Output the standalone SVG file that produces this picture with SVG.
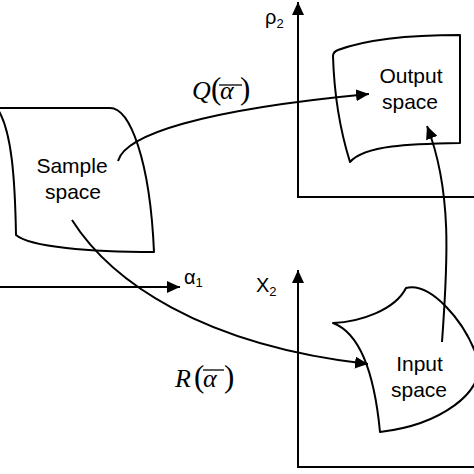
<svg xmlns="http://www.w3.org/2000/svg" width="474" height="474" viewBox="0 0 474 474">
<style>
.shape{fill:#fff;stroke:#000;stroke-width:2;stroke-linejoin:round}
.axis{fill:none;stroke:#000;stroke-width:2}
.conn{fill:none;stroke:#000;stroke-width:2}
.lbl{font-family:"Liberation Sans",Arial,sans-serif;font-size:21px;fill:#000;text-anchor:middle}
.ax{font-family:"Liberation Sans",Arial,sans-serif;font-size:20px;fill:#000}
.sub{font-size:13px}
.math{font-family:"Liberation Serif","Times New Roman",serif;font-size:26px;font-style:italic;fill:#000}
.par{font-family:"Liberation Serif","Times New Roman",serif;font-size:31px;fill:#000}
.ovl{stroke:#000;stroke-width:1.3}
</style>
<defs>
<marker id="arr" markerUnits="userSpaceOnUse" markerWidth="14" markerHeight="12" refX="13" refY="6" orient="auto">
<path d="M0,0 L13,6 L0,12 Z" fill="#000"/>
</marker>
</defs>
<rect width="474" height="474" fill="#fff"/>
<g id="axes">
<path class="axis" d="M474,197 L298,197 L298,2" marker-end="url(#arr)"/>
<path class="axis" d="M474,467 L298,467 L298,270" marker-end="url(#arr)"/>
<path class="axis" d="M0,287 L180,287" marker-end="url(#arr)"/>
<text class="ax" x="265" y="24">ρ<tspan class="sub" dy="4">2</tspan></text>
<text class="ax" x="184" y="284">α<tspan class="sub" dy="3">1</tspan></text>
<text class="ax" x="256" y="292">X<tspan class="sub" dy="4">2</tspan></text>
</g>
<g id="sample">
<path class="shape" d="M-3,108 L110,108 C130,108 150,160 154,252 C90,252 30,247 16,235 C15,180 12,130 -3,108 Z"/>
<text class="lbl" x="72" y="173">Sample</text>
<text class="lbl" x="73" y="199">space</text>
</g>
<g id="output">
<path class="shape" d="M460,35 L460,143 C410,144 365,145 350,162 C340,130 334,90 333,56 Q333,52 338,50 C370,38 420,35 460,35 Z"/>
<text class="lbl" x="411" y="83">Output</text>
<text class="lbl" x="410" y="109">space</text>
</g>
<g id="input">
<path class="shape" d="M333,323 C360,322 395,310 406,288 C430,282 465,320 478,360 C486,392 440,425 380,432 C376,390 365,335 333,323 Z"/>
<text class="lbl" x="419.5" y="371">Input</text>
<text class="lbl" x="419" y="397">space</text>
</g>
<g id="connectors">
<path class="conn" d="M118,161 C125,135 200,110 369,94" marker-end="url(#arr)"/>
<path class="conn" d="M72,220 C110,280 200,345 368,364" marker-end="url(#arr)"/>
<path class="conn" d="M442,342 C448,260 452,190 427,126" marker-end="url(#arr)"/>
</g>
<g id="labelQ">
<text class="math" x="192" y="99">Q</text>
<text class="par" x="211" y="99">(</text>
<text class="math" x="220" y="99">α</text>
<line class="ovl" x1="219" y1="85" x2="242" y2="85"/>
<text class="par" x="240" y="99">)</text>
</g>
<g id="labelR">
<text class="math" x="175" y="387">R</text>
<text class="par" x="194" y="387">(</text>
<text class="math" x="203" y="387">α</text>
<line class="ovl" x1="203" y1="370" x2="224" y2="370"/>
<text class="par" x="224" y="387">)</text>
</g>
</svg>
